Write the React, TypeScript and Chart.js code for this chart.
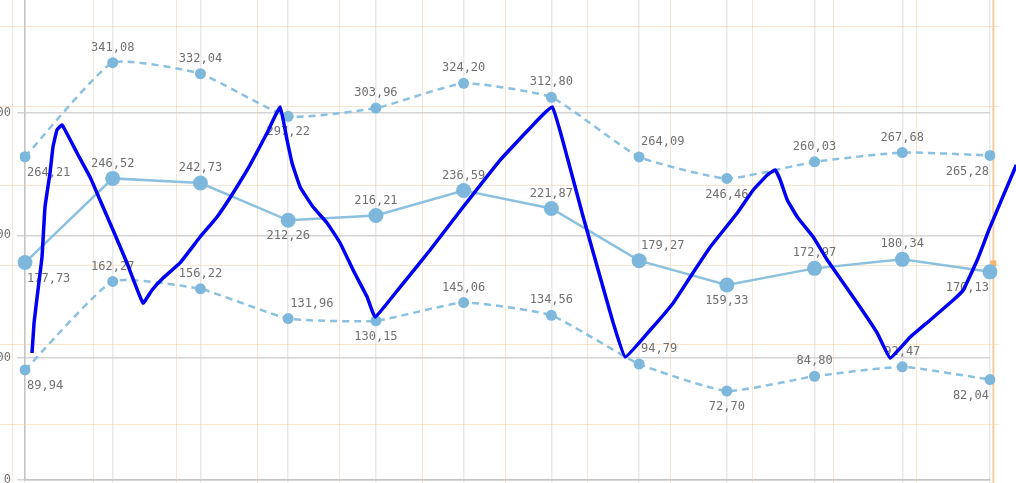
import React, { useEffect, useRef } from "react";
import { Chart, registerables } from "chart.js";

Chart.register(...registerables);

// ---- data ----
const categories = ["1", "2", "3", "4", "5", "6", "7", "8", "9", "10", "11", "12"];
const upperValues = [264.21, 341.08, 332.04, 297.22, 303.96, 324.2, 312.8, 264.09, 246.46, 260.03, 267.68, 265.28];
const middleValues = [177.73, 246.52, 242.73, 212.26, 216.21, 236.59, 221.87, 179.27, 159.33, 172.97, 180.34, 170.13];
const lowerValues = [89.94, 162.27, 156.22, 131.96, 130.15, 145.06, 134.56, 94.79, 72.7, 84.8, 92.47, 82.04];

// label placement: a = above, b = below, ar = above & to the right, bl = below, left aligned, br = below, right aligned
const upperPlace = ["bl", "a", "a", "b", "a", "a", "a", "ar", "b", "a", "a", "br"];
const middlePlace = ["bl", "a", "a", "b", "a", "a", "a", "ar", "b", "a", "a", "br"];
const lowerPlace = ["bl", "a", "a", "ar", "b", "a", "a", "ar", "b", "a", "a", "br"];

const yTicksMin = 0;
const yTicksMax = 400;
const yTickStep = 100;

// hand-drawn overlay stroke (x in category units, y in value units)
const sketchX = [0.08, 0.103, 0.148, 0.194, 0.228, 0.285, 0.319, 0.365, 0.422, 0.593, 0.741, 0.855, 1.003, 1.163, 1.345, 1.448, 1.574, 1.767, 1.995, 2.189, 2.372, 2.566, 2.759, 2.908, 2.987, 3.044, 3.136, 3.284, 3.444, 3.592, 3.74, 3.9, 3.991, 4.276, 4.618, 4.994, 5.416, 5.758, 6.009, 6.18, 6.363, 6.556, 6.705, 6.842, 7.127, 7.389, 7.583, 7.811, 8.119, 8.301, 8.461, 8.552, 8.609, 8.689, 8.803, 8.985, 9.145, 9.487, 9.715, 9.863, 10.091, 10.319, 10.582, 10.696, 10.855, 10.992, 11.3];
const sketchY = [103.8, 128.3, 155.3, 182.3, 223.1, 250.9, 272.2, 286.1, 290.2, 267.3, 247.6, 228.9, 204.3, 177.4, 144.7, 155.3, 165.1, 177.4, 198.6, 215.0, 234.6, 257.5, 283.6, 304.9, 277.9, 259.1, 239.5, 223.1, 210.1, 193.7, 171.6, 149.6, 133.2, 157.7, 188.0, 223.1, 261.5, 287.7, 304.9, 264.0, 215.0, 165.9, 128.3, 100.5, 122.6, 144.7, 165.9, 190.4, 218.2, 237.0, 249.3, 253.4, 245.2, 228.9, 215.0, 198.6, 179.8, 144.7, 120.1, 99.7, 116.9, 130.8, 147.1, 155.3, 179.8, 205.2, 257.5];

// faint background grid (from the underlying screenshot)
const backGridX = [-0.148, 0.775, 1.722, 2.645, 3.58, 4.527, 5.473, 6.408, 7.355, 8.29, 9.213, 10.16];
const backBorderX = 11.038;
const backGridY = [371, 306, 241, 176, 111, 46];
const backMarkerY = 177;

const LABEL_FONT = "12px 'DejaVu Sans Mono', monospace";
const TEXT_COLOR = "#707070";
const POINT_COLOR = "#7db8dc";
const LINE_COLOR = "#8cc0df";

const backGridPlugin = {
  id: "backGrid",
  beforeDatasetsDraw(chart: any) {
    const ctx = chart.ctx;
    const xs = chart.scales.xb;
    const ys = chart.scales.y;
    const borderPx = xs.getPixelForValue(backBorderX);
    ctx.save();
    ctx.strokeStyle = "rgba(242, 205, 160, 0.5)";
    ctx.lineWidth = 1;
    for (const v of backGridX) {
      const px = Math.round(xs.getPixelForValue(v)) + 0.5;
      ctx.beginPath();
      ctx.moveTo(px, 0);
      ctx.lineTo(px, chart.height);
      ctx.stroke();
    }
    for (const v of backGridY) {
      const py = Math.round(ys.getPixelForValue(v)) + 0.5;
      ctx.beginPath();
      ctx.moveTo(0, py);
      ctx.lineTo(borderPx + 6, py);
      ctx.stroke();
    }
    ctx.strokeStyle = "#f3cf9f";
    ctx.lineWidth = 2;
    ctx.beginPath();
    ctx.moveTo(borderPx, 0);
    ctx.lineTo(borderPx, chart.height);
    ctx.stroke();
    ctx.fillStyle = "#f5b76c";
    const my = ys.getPixelForValue(backMarkerY);
    ctx.fillRect(borderPx - 3, my - 3, 6, 6);
    ctx.restore();
  },
};

const valueLabelPlugin = {
  id: "valueLabels",
  beforeDatasetDraw(chart: any, args: any) {
    if (args.index !== 3) return;
    const ctx = chart.ctx;
    const sets = [
      { idx: 0, values: upperValues, place: upperPlace },
      { idx: 1, values: middleValues, place: middlePlace },
      { idx: 2, values: lowerValues, place: lowerPlace },
    ];
    ctx.save();
    ctx.font = LABEL_FONT;
    ctx.fillStyle = TEXT_COLOR;
    ctx.textBaseline = "middle";
    for (const s of sets) {
      const meta = chart.getDatasetMeta(s.idx);
      meta.data.forEach((el: any, j: number) => {
        const text = s.values[j].toFixed(2).replace(".", ",");
        const p = s.place[j];
        let x = el.x;
        let y = el.y;
        let align: CanvasTextAlign = "center";
        if (p === "a") {
          y -= 15;
        } else if (p === "b") {
          y += 16;
        } else if (p === "ar") {
          y -= 15;
          x += 2;
          align = "left";
        } else if (p === "bl") {
          y += 16;
          x += 2;
          align = "left";
        } else if (p === "br") {
          y += 16;
          x -= 1;
          align = "right";
        }
        ctx.textAlign = align;
        ctx.fillText(text, x, y);
      });
    }
    ctx.restore();
  },
};

export default function App() {
  const ref = useRef<HTMLCanvasElement | null>(null);

  useEffect(() => {
    if (!ref.current) return;
    const font = { family: "'DejaVu Sans Mono', monospace", size: 12 };
    const chart = new Chart(ref.current, {
      type: "line",
      data: {
        labels: categories,
        datasets: [
          {
            label: "upper",
            data: upperValues,
            borderColor: LINE_COLOR,
            borderWidth: 2.5,
            borderDash: [7, 5],
            tension: 0.15,
            pointRadius: 5.5,
            pointBorderWidth: 0,
            pointBackgroundColor: POINT_COLOR,
            fill: false,
          },
          {
            label: "middle",
            data: middleValues,
            borderColor: LINE_COLOR,
            borderWidth: 2.5,
            tension: 0,
            pointRadius: 7.5,
            pointBorderWidth: 0,
            pointBackgroundColor: POINT_COLOR,
            fill: false,
          },
          {
            label: "lower",
            data: lowerValues,
            borderColor: LINE_COLOR,
            borderWidth: 2.5,
            borderDash: [7, 5],
            tension: 0.15,
            pointRadius: 5.5,
            pointBorderWidth: 0,
            pointBackgroundColor: POINT_COLOR,
            fill: false,
          },
          {
            label: "sketch",
            data: sketchX.map((x, i) => ({ x, y: sketchY[i] })),
            xAxisID: "xb",
            borderColor: "#0000f5",
            borderWidth: 3.5,
            tension: 0.1,
            pointRadius: 0,
            fill: false,
            clip: false,
            order: -1,
          } as any,
        ],
      },
      options: {
        animation: false,
        responsive: false,
        events: [],
        layout: { padding: { top: 20.6, left: 0, right: 40, bottom: 0 } },
        plugins: {
          legend: { display: false },
          tooltip: { enabled: false },
        },
        scales: {
          x: {
            type: "category",
            offset: false,
            grid: { color: "#e9e9e9", lineWidth: 1.5, tickLength: 6 },
            border: { color: "#c4c4c4", width: 1.5 },
            ticks: { font, color: TEXT_COLOR },
            afterFit(s: any) {
              s.height = 40;
            },
          },
          xb: { type: "linear", display: false, min: 0, max: 11 },
          y: {
            min: yTicksMin,
            max: yTicksMax,
            ticks: { stepSize: yTickStep, padding: 6, font, color: TEXT_COLOR },
            grid: { color: "#d4d4d4", lineWidth: 1.5, tickLength: 8 },
            border: { color: "#c4c4c4", width: 1.5 },
            afterFit(s: any) {
              s.width = 40;
            },
          },
        },
      } as any,
      plugins: [backGridPlugin, valueLabelPlugin],
    });
    return () => chart.destroy();
  }, []);

  return (
    <div
      style={{
        position: "fixed",
        left: 0,
        top: 0,
        width: 1016,
        height: 483,
        overflow: "hidden",
        background: "#ffffff",
      }}
    >
      <canvas
        ref={ref}
        width={1045}
        height={550}
        style={{ position: "absolute", left: -15, top: -30, width: 1045, height: 550 }}
      />
    </div>
  );
}
